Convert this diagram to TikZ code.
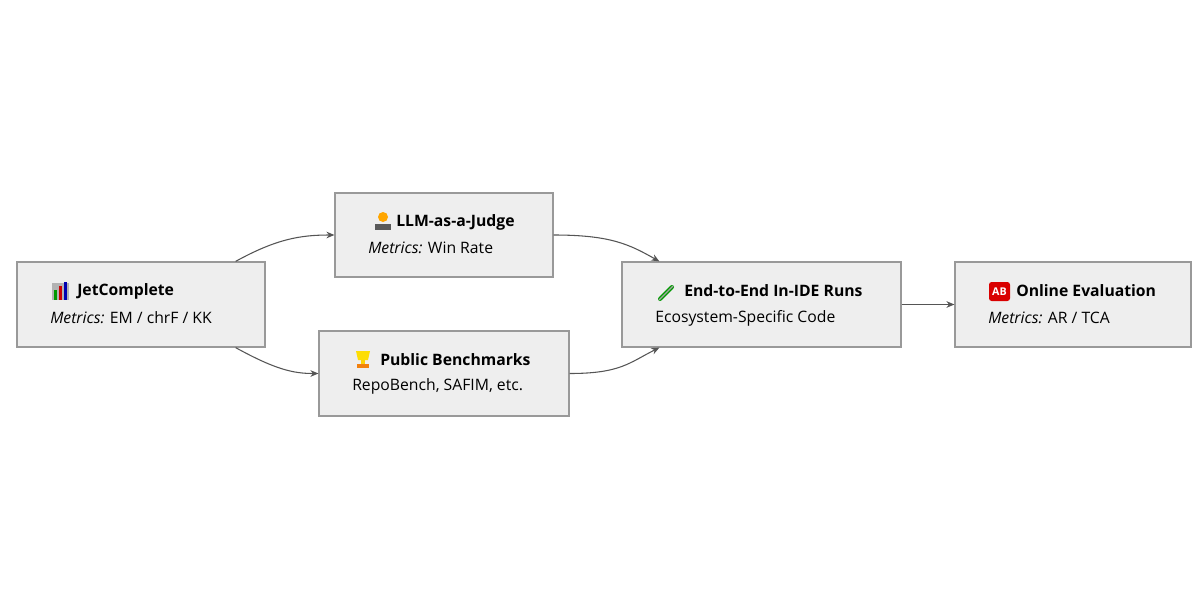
\documentclass[tikz,border=0pt]{standalone}
\usepackage{fontspec}
\setmainfont{Open Sans}
\usetikzlibrary{arrows.meta,calc}
\definecolor{boxfill}{HTML}{EEEEEE}
\definecolor{boxline}{HTML}{999999}
\definecolor{edge}{HTML}{555555}
\begin{document}
\begin{tikzpicture}[x=0.75pt,y=-0.75pt,
  box/.style={draw=boxline,fill=boxfill,line width=0.9pt,inner sep=0,minimum height=63.75pt},
  lbl/.style={anchor=west,font=\fontsize{11.8}{14}\selectfont,inner sep=0},
  ttl/.style={lbl,font=\fontsize{11.8}{14}\selectfont\bfseries},
  con/.style={draw=edge,line width=0.8pt,-{Stealth[length=6pt,width=5pt]}}]
\useasboundingbox (0,0) rectangle (1200,600);
% boxes
\node[box,minimum width=186pt] (jc) at (141,304.5) {};
\node[box,minimum width=163.5pt,minimum height=63pt] (llm) at (444,235) {};
\node[box,minimum width=187.5pt] (pb) at (444,373.5) {};
\node[box,minimum width=209.25pt] (e2e) at (761.5,304.5) {};
\node[box,minimum width=177pt] (on) at (1073,304.5) {};
% bar chart
\fill[gray!60] (52,283) rectangle (69,300);
\fill[green!60!black] (54,290) rectangle (57,300);
\fill[red!80!black] (59,286) rectangle (62,300);
\fill[blue!70!black] (64,282) rectangle (67,300);
\node[ttl] (t1) at (77,291) {JetComplete};
\node[lbl] (m1) at (50,318) {\textit{Metrics:} EM~/ chrF~/ KK};
% judge icon
\fill[orange!70!yellow] (383,217) circle (5);
\fill[gray!70!black] (375,224) rectangle (391,230);
\node[ttl] (t2) at (396,222) {LLM-as-a-Judge};
\node[lbl] (m2) at (368,248) {\textit{Metrics:} Win Rate};
% trophy
\fill[yellow!80!orange] (356,351) -- (370,351) -- (368,360) -- (358,360) -- cycle;
\fill[yellow!70!orange] (361,360) rectangle (365,364);
\fill[orange!80!brown] (357,364) rectangle (369,368);
\node[ttl] (t3) at (380,360) {Public Benchmarks};
\node[lbl] (m3) at (352,386) {RepoBench, SAFIM, etc.};
% test tube
\draw[green!60!black,line width=3pt,line cap=round] (660,299) -- (672,287);
\draw[gray!70,line width=1pt] (659,300) -- (673,286);
\node[ttl] (t4) at (684,291) {End-to-End In-IDE Runs};
\node[lbl] (m4) at (655,318) {Ecosystem-Specific Code};
% AB
\fill[red!85!black,rounded corners=2pt] (989,282) rectangle (1010,301);
\node[font=\fontsize{8}{9}\selectfont\bfseries,text=white,inner sep=0] (ab) at (999.5,291.5) {AB};
\node[ttl] (t5) at (1016,291) {Online Evaluation};
\node[lbl] (m5) at (988,318) {\textit{Metrics:} AR~/ TCA};
% connectors
\draw[con] ($(jc.north east)+(-30,0)$) .. controls +(40,-22) and +(-35,0) .. (llm.west);
\draw[con] ($(jc.south east)+(-30,0)$) .. controls +(40,22) and +(-25,0) .. (pb.west);
\draw[con] (llm.east) .. controls +(57,0) and +(-30,-17) .. ($(e2e.north west)+(38,0)$);
\draw[con] (pb.east) .. controls +(51,0) and +(-30,15) .. ($(e2e.south west)+(38,0)$);
\draw[con] (e2e.east) -- (on.west);
\end{tikzpicture}
\end{document}
